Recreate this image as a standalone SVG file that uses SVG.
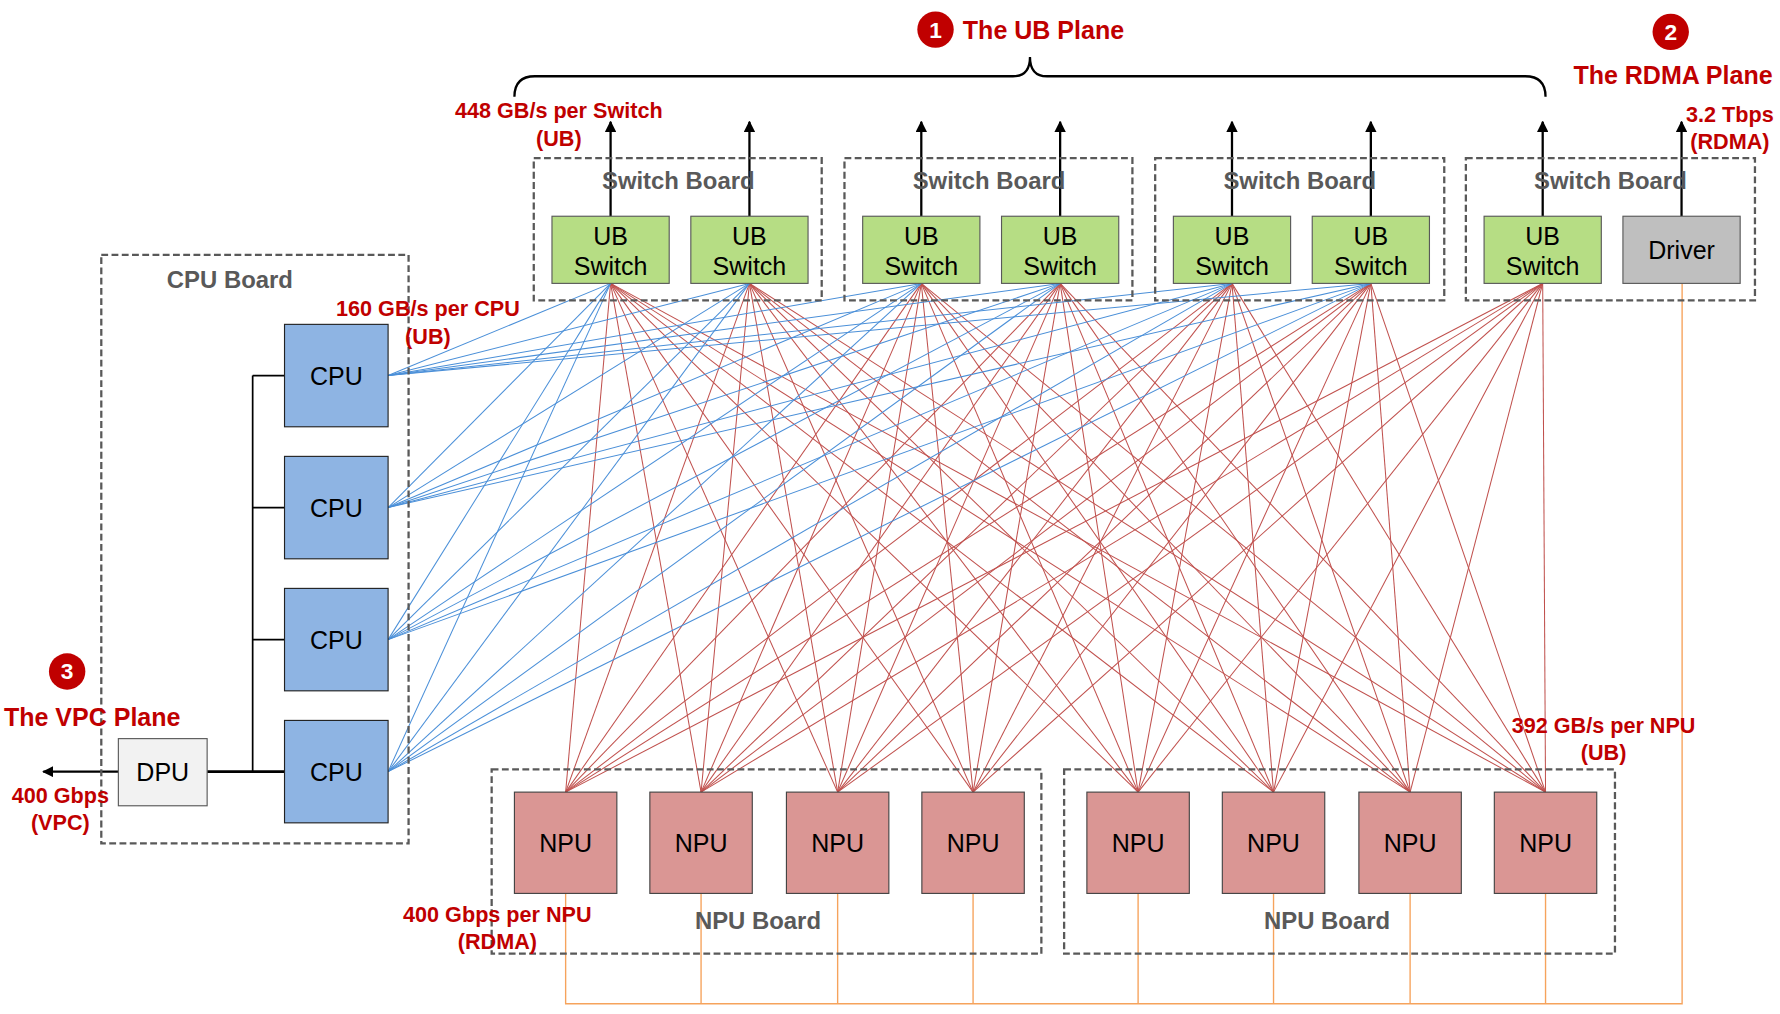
<svg xmlns="http://www.w3.org/2000/svg" width="1780" height="1014" viewBox="0 0 1780 1014">
<style>
.dash{fill:none;stroke:#595959;stroke-width:2;stroke-dasharray:6,3}
.bt{font-family:"Liberation Sans",Arial,sans-serif;font-weight:bold;font-size:21px;fill:#595959;text-anchor:middle}
.nt{font-family:"Liberation Sans",Arial,sans-serif;font-size:22px;fill:#000;text-anchor:middle}
.rt{font-family:"Liberation Sans",Arial,sans-serif;font-weight:bold;font-size:19px;fill:#c00000;text-anchor:middle}
.pt{font-family:"Liberation Sans",Arial,sans-serif;font-weight:bold;font-size:22px;fill:#c00000}
.sw{fill:#b6dd84;stroke:#595959;stroke-width:1}
.cpu{fill:#8eb4e3;stroke:#222;stroke-width:1}
.npu{fill:#da9694;stroke:#444;stroke-width:1}
.red line{stroke:#c0504d;stroke-width:0.9}
.blue line{stroke:#4a8fd8;stroke-width:0.9}
.orange{fill:none;stroke:#f6a35c;stroke-width:1.2}
.up{stroke:#000;stroke-width:2;marker-end:url(#ah)}
.circ{fill:#c00000}
.ct{font-family:"Liberation Sans",Arial,sans-serif;font-weight:bold;font-size:20px;fill:#fff;text-anchor:middle}
</style>
<defs>
<marker id="ah" viewBox="0 0 10 10" refX="9" refY="5" markerWidth="5" markerHeight="5" orient="auto"><path d="M0,0 L10,5 L0,10 z" fill="#000"/></marker>
</defs>
<g transform="scale(1.1381,1.1381)">
<g id="connectors">
<g class="red" id="ub-npu">
<line x1="536.5" y1="249" x2="497" y2="696"/><line x1="536.5" y1="249" x2="616" y2="696"/><line x1="536.5" y1="249" x2="736" y2="696"/><line x1="536.5" y1="249" x2="855" y2="696"/><line x1="536.5" y1="249" x2="1000" y2="696"/><line x1="536.5" y1="249" x2="1119" y2="696"/><line x1="536.5" y1="249" x2="1239" y2="696"/><line x1="536.5" y1="249" x2="1358" y2="696"/>
<line x1="658.5" y1="249" x2="497" y2="696"/><line x1="658.5" y1="249" x2="616" y2="696"/><line x1="658.5" y1="249" x2="736" y2="696"/><line x1="658.5" y1="249" x2="855" y2="696"/><line x1="658.5" y1="249" x2="1000" y2="696"/><line x1="658.5" y1="249" x2="1119" y2="696"/><line x1="658.5" y1="249" x2="1239" y2="696"/><line x1="658.5" y1="249" x2="1358" y2="696"/>
<line x1="809.5" y1="249" x2="497" y2="696"/><line x1="809.5" y1="249" x2="616" y2="696"/><line x1="809.5" y1="249" x2="736" y2="696"/><line x1="809.5" y1="249" x2="855" y2="696"/><line x1="809.5" y1="249" x2="1000" y2="696"/><line x1="809.5" y1="249" x2="1119" y2="696"/><line x1="809.5" y1="249" x2="1239" y2="696"/><line x1="809.5" y1="249" x2="1358" y2="696"/>
<line x1="931.5" y1="249" x2="497" y2="696"/><line x1="931.5" y1="249" x2="616" y2="696"/><line x1="931.5" y1="249" x2="736" y2="696"/><line x1="931.5" y1="249" x2="855" y2="696"/><line x1="931.5" y1="249" x2="1000" y2="696"/><line x1="931.5" y1="249" x2="1119" y2="696"/><line x1="931.5" y1="249" x2="1239" y2="696"/><line x1="931.5" y1="249" x2="1358" y2="696"/>
<line x1="1082.5" y1="249" x2="497" y2="696"/><line x1="1082.5" y1="249" x2="616" y2="696"/><line x1="1082.5" y1="249" x2="736" y2="696"/><line x1="1082.5" y1="249" x2="855" y2="696"/><line x1="1082.5" y1="249" x2="1000" y2="696"/><line x1="1082.5" y1="249" x2="1119" y2="696"/><line x1="1082.5" y1="249" x2="1239" y2="696"/><line x1="1082.5" y1="249" x2="1358" y2="696"/>
<line x1="1204.5" y1="249" x2="497" y2="696"/><line x1="1204.5" y1="249" x2="616" y2="696"/><line x1="1204.5" y1="249" x2="736" y2="696"/><line x1="1204.5" y1="249" x2="855" y2="696"/><line x1="1204.5" y1="249" x2="1000" y2="696"/><line x1="1204.5" y1="249" x2="1119" y2="696"/><line x1="1204.5" y1="249" x2="1239" y2="696"/><line x1="1204.5" y1="249" x2="1358" y2="696"/>
<line x1="1355.5" y1="249" x2="497" y2="696"/><line x1="1355.5" y1="249" x2="616" y2="696"/><line x1="1355.5" y1="249" x2="736" y2="696"/><line x1="1355.5" y1="249" x2="855" y2="696"/><line x1="1355.5" y1="249" x2="1000" y2="696"/><line x1="1355.5" y1="249" x2="1119" y2="696"/><line x1="1355.5" y1="249" x2="1239" y2="696"/><line x1="1355.5" y1="249" x2="1358" y2="696"/>
</g>
<g class="blue" id="cpu-ub">
<line x1="341" y1="330" x2="536.5" y2="249"/><line x1="341" y1="330" x2="658.5" y2="249"/><line x1="341" y1="330" x2="809.5" y2="249"/><line x1="341" y1="330" x2="931.5" y2="249"/><line x1="341" y1="330" x2="1082.5" y2="249"/><line x1="341" y1="330" x2="1204.5" y2="249"/>
<line x1="341" y1="446" x2="536.5" y2="249"/><line x1="341" y1="446" x2="658.5" y2="249"/><line x1="341" y1="446" x2="809.5" y2="249"/><line x1="341" y1="446" x2="931.5" y2="249"/><line x1="341" y1="446" x2="1082.5" y2="249"/><line x1="341" y1="446" x2="1204.5" y2="249"/>
<line x1="341" y1="562" x2="536.5" y2="249"/><line x1="341" y1="562" x2="658.5" y2="249"/><line x1="341" y1="562" x2="809.5" y2="249"/><line x1="341" y1="562" x2="931.5" y2="249"/><line x1="341" y1="562" x2="1082.5" y2="249"/><line x1="341" y1="562" x2="1204.5" y2="249"/>
<line x1="341" y1="678" x2="536.5" y2="249"/><line x1="341" y1="678" x2="658.5" y2="249"/><line x1="341" y1="678" x2="809.5" y2="249"/><line x1="341" y1="678" x2="931.5" y2="249"/><line x1="341" y1="678" x2="1082.5" y2="249"/><line x1="341" y1="678" x2="1204.5" y2="249"/>
</g>
<path class="orange" d="M497,785 V882 H1478 V249 M616,785 V882 M736,785 V882 M855,785 V882 M1000,785 V882 M1119,785 V882 M1239,785 V882 M1358,785 V882"/>
<g id="uplinks">
<line class="up" x1="536.5" y1="190" x2="536.5" y2="107"/><line class="up" x1="658.5" y1="190" x2="658.5" y2="107"/><line class="up" x1="809.5" y1="190" x2="809.5" y2="107"/><line class="up" x1="931.5" y1="190" x2="931.5" y2="107"/><line class="up" x1="1082.5" y1="190" x2="1082.5" y2="107"/><line class="up" x1="1204.5" y1="190" x2="1204.5" y2="107"/><line class="up" x1="1355.5" y1="190" x2="1355.5" y2="107"/><line class="up" x1="1477.5" y1="190" x2="1477.5" y2="107"/>
</g>
<path d="M222,330 V678 M222,330 H250 M222,446 H250 M222,562 H250" fill="none" stroke="#000" stroke-width="1.5"/>
<path d="M182,678 H250" stroke="#000" stroke-width="2.5"/>
<line class="up" x1="104" y1="678" x2="38" y2="678"/>
<path d="M452,85 Q452,67 470,67 H890 Q905,67 905,50 Q905,67 920,67 H1340 Q1358,67 1358,85" fill="none" stroke="#000" stroke-width="2"/>
</g>
<g id="switch-boards">
<rect class="dash" x="469" y="139" width="253" height="125"/><text class="bt" x="596" y="166">Switch Board</text>
<rect class="dash" x="742" y="139" width="253" height="125"/><text class="bt" x="869" y="166">Switch Board</text>
<rect class="dash" x="1015" y="139" width="254" height="125"/><text class="bt" x="1142" y="166">Switch Board</text>
<rect class="dash" x="1288" y="139" width="254" height="125"/><text class="bt" x="1415" y="166">Switch Board</text>
</g>
<g id="ub-switches">
<g id="sw1"><rect class="sw" x="485" y="190" width="103" height="59"/><text class="nt" x="536.5" y="215">UB</text><text class="nt" x="536.5" y="242">Switch</text></g>
<g id="sw2"><rect class="sw" x="607" y="190" width="103" height="59"/><text class="nt" x="658.5" y="215">UB</text><text class="nt" x="658.5" y="242">Switch</text></g>
<g id="sw3"><rect class="sw" x="758" y="190" width="103" height="59"/><text class="nt" x="809.5" y="215">UB</text><text class="nt" x="809.5" y="242">Switch</text></g>
<g id="sw4"><rect class="sw" x="880" y="190" width="103" height="59"/><text class="nt" x="931.5" y="215">UB</text><text class="nt" x="931.5" y="242">Switch</text></g>
<g id="sw5"><rect class="sw" x="1031" y="190" width="103" height="59"/><text class="nt" x="1082.5" y="215">UB</text><text class="nt" x="1082.5" y="242">Switch</text></g>
<g id="sw6"><rect class="sw" x="1153" y="190" width="103" height="59"/><text class="nt" x="1204.5" y="215">UB</text><text class="nt" x="1204.5" y="242">Switch</text></g>
<g id="sw7"><rect class="sw" x="1304" y="190" width="103" height="59"/><text class="nt" x="1355.5" y="215">UB</text><text class="nt" x="1355.5" y="242">Switch</text></g>
<g id="driver"><rect x="1426" y="190" width="103" height="59" fill="#bfbfbf" stroke="#595959"/><text class="nt" x="1477.5" y="228">Driver</text></g>
</g>
<g id="cpu-board">
<rect class="dash" x="89" y="224" width="270" height="517"/><text class="bt" x="202" y="253">CPU Board</text>
<g id="cpu1"><rect class="cpu" x="250" y="285" width="91" height="90"/><text class="nt" x="295.5" y="338">CPU</text></g>
<g id="cpu2"><rect class="cpu" x="250" y="401" width="91" height="90"/><text class="nt" x="295.5" y="454">CPU</text></g>
<g id="cpu3"><rect class="cpu" x="250" y="517" width="91" height="90"/><text class="nt" x="295.5" y="570">CPU</text></g>
<g id="cpu4"><rect class="cpu" x="250" y="633" width="91" height="90"/><text class="nt" x="295.5" y="686">CPU</text></g>
<g id="dpu"><rect x="104" y="649" width="78" height="59" fill="#f2f2f2" stroke="#595959"/><text class="nt" x="143" y="686">DPU</text></g>
</g>
<g id="npu-boards">
<rect class="dash" x="432" y="676" width="483" height="162"/><text class="bt" x="666" y="816">NPU Board</text>
<rect class="dash" x="935" y="676" width="484" height="162"/><text class="bt" x="1166" y="816">NPU Board</text>
<g id="npu1"><rect class="npu" x="452" y="696" width="90" height="89"/><text class="nt" x="497" y="749">NPU</text></g>
<g id="npu2"><rect class="npu" x="571" y="696" width="90" height="89"/><text class="nt" x="616" y="749">NPU</text></g>
<g id="npu3"><rect class="npu" x="691" y="696" width="90" height="89"/><text class="nt" x="736" y="749">NPU</text></g>
<g id="npu4"><rect class="npu" x="810" y="696" width="90" height="89"/><text class="nt" x="855" y="749">NPU</text></g>
<g id="npu5"><rect class="npu" x="955" y="696" width="90" height="89"/><text class="nt" x="1000" y="749">NPU</text></g>
<g id="npu6"><rect class="npu" x="1074" y="696" width="90" height="89"/><text class="nt" x="1119" y="749">NPU</text></g>
<g id="npu7"><rect class="npu" x="1194" y="696" width="90" height="89"/><text class="nt" x="1239" y="749">NPU</text></g>
<g id="npu8"><rect class="npu" x="1313" y="696" width="90" height="89"/><text class="nt" x="1358" y="749">NPU</text></g>
</g>
<g id="labels">
<circle class="circ" cx="822" cy="26" r="16"/><text class="ct" x="822" y="33">1</text>
<text class="pt" x="846" y="34">The UB Plane</text>
<circle class="circ" cx="1468" cy="28" r="16"/><text class="ct" x="1468" y="35">2</text>
<text class="pt" x="1470" y="74" text-anchor="middle">The RDMA Plane</text>
<circle class="circ" cx="59" cy="590" r="16"/><text class="ct" x="59" y="597">3</text>
<text class="pt" x="81" y="638" text-anchor="middle">The VPC Plane</text>
<text class="rt" x="491" y="104">448 GB/s per Switch</text><text class="rt" x="491" y="128">(UB)</text>
<text class="rt" x="1520" y="107">3.2 Tbps</text><text class="rt" x="1520" y="131">(RDMA)</text>
<text class="rt" x="376" y="278">160 GB/s per CPU</text><text class="rt" x="376" y="302">(UB)</text>
<text class="rt" x="53" y="706">400 Gbps</text><text class="rt" x="53" y="729">(VPC)</text>
<text class="rt" x="437" y="810">400 Gbps per NPU</text><text class="rt" x="437" y="834">(RDMA)</text>
<text class="rt" x="1409" y="644">392 GB/s per NPU</text><text class="rt" x="1409" y="668">(UB)</text>
</g>
</g>
</svg>
